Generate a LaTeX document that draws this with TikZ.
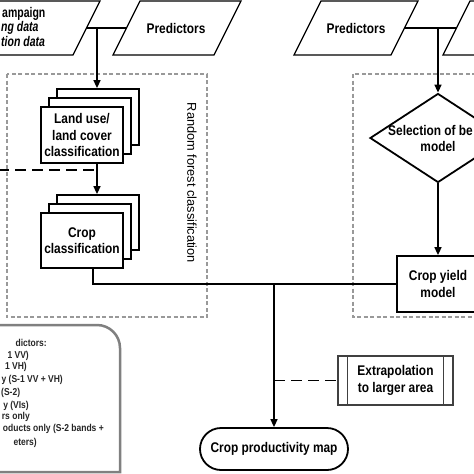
\documentclass[tikz,border=0pt]{standalone}
\usepackage{fontspec}
\setmainfont{Liberation Sans}
\newfontfamily\bxfont{Liberation Sans}[FakeStretch=0.85]
\newfontfamily\bxnarrow{Liberation Sans}[FakeStretch=0.75]
\usetikzlibrary{arrows.meta,shadows,calc,shapes.geometric}
\begin{document}
\begin{tikzpicture}[x=1pt,y=-1pt,
  boxtext/.style={font=\bxfont\bfseries\fontsize{14}{16.5}\selectfont, align=center},
  procbox/.style={draw, line width=1.8pt, fill=white, minimum width=82pt, minimum height=56pt, inner sep=0pt, boxtext},
  stackbox/.style={procbox, double copy shadow={shadow xshift=8pt, shadow yshift=9pt, draw=black, fill=white, line width=1.8pt}},
  arr/.style={line width=1.6pt, -{Triangle[length=8pt,width=7pt]}},
  conn/.style={line width=1.6pt},
  dashconn/.style={line width=1.6pt, dash pattern=on 11pt off 6pt},
  groupbox/.style={draw=black!40, line width=1.5pt, dash pattern=on 4pt off 2.5pt},
  para/.style={draw, line width=1.3pt, fill=white},
  frag/.style={font=\bxnarrow\bfseries\fontsize{14}{16.5}\selectfont, anchor=west, inner sep=0pt, text height=10pt, text depth=3pt},
  lgtext/.style={font=\bxfont\bfseries\fontsize{10}{12.4}\selectfont, text=black!85, anchor=east, inner sep=0pt, text height=7pt, text depth=2pt}]
\useasboundingbox (0,0) rectangle (474,474);
\clip (0,0) rectangle (474,474);
\fill[white] (0,0) rectangle (474,474);

% group boxes
\draw[groupbox] (7,74) rectangle (207,317);
\draw[groupbox] (353,74) rectangle (490,317);
\node[rotate=-90, font=\fontsize{12.8}{14}\selectfont, inner sep=0pt] (rfc) at (192,183) {Random forest classification};

% input parallelograms
\draw[para] (-30,1) -- (100,1) -- (73,55) -- (-30,55) -- cycle;
\node[frag] (in1) at (2,14) {ampaign};
\node[frag, font=\bxnarrow\bfseries\itshape\fontsize{14}{16.5}\selectfont] (in2) at (1,28) {ng data};
\node[frag, font=\bxnarrow\bfseries\itshape\fontsize{14}{16.5}\selectfont] (in3) at (1,43) {tion data};
\draw[para] (140,1) -- (241,1) -- (214,55) -- (113,55) -- cycle;
\node[boxtext] (pred1) at (176,28) {Predictors};
\draw[para] (321,1) -- (418,1) -- (391,55) -- (294,55) -- cycle;
\node[boxtext] (pred2) at (356,28) {Predictors};
\draw[para] (470,1) -- (520,1) -- (493,55) -- (443,55) -- cycle;

\coordinate (pl1) at (86.5,28);
\coordinate (pr1) at (126.5,28);
\coordinate (j1) at (97,28);
\coordinate (pl2) at (404.5,28);
\coordinate (pr2) at (456.5,28);
\coordinate (j2) at (438,28);

% process nodes
\node[stackbox] (lulc) at (82,135) {Land use/\\land cover\\classification};
\node[stackbox, minimum height=55pt] (crop) at (82,240.5) {Crop\\classification};
\node[procbox] (yield) at (438,284) {Crop yield\\model};
\node[diamond, draw, line width=1.8pt, fill=white, minimum width=136pt, minimum height=89pt, inner sep=0pt] (sel) at (438,138) {};
\node[boxtext, anchor=west, inner sep=0pt] (selA) at (388,130) {Selection of be};
\node[boxtext, inner sep=0pt] (selB) at (438,146) {model};
\node[draw, line width=1.8pt, rounded corners=21pt, minimum width=148pt, minimum height=42pt, inner sep=0pt, boxtext] (map) at (274,449) {Crop productivity map};
\node[draw=black!75, line width=1.2pt, minimum width=115pt, minimum height=49pt, inner sep=0pt, boxtext] (ext) at (395.5,380.5) {Extrapolation\\to larger area};
\draw[draw=black!75, line width=1.2pt] ($(ext.north west)+(10,0)$) -- ($(ext.south west)+(10,0)$);
\draw[draw=black!75, line width=1.2pt] ($(ext.north east)+(-10,0)$) -- ($(ext.south east)+(-10,0)$);

% connectors
\coordinate (lulcback) at ($(lulc.north)+(0,-18)$);
\coordinate (a1) at ($(lulc.south)+(15,0)$);
\coordinate (cropback) at ($(crop.north)+(15,-18)$);
\coordinate (dashL) at (-2,170);
\draw[conn] (pl1) -- (pr1);
\draw[arr] (j1) -- (j1 |- lulcback);
\draw[arr] (a1) -- (cropback);
\draw[dashconn] (dashL) -- (a1 |- dashL);
\draw[conn] ($(crop.south)+(11,0)$) |- (yield.west);
\coordinate (mj) at (map.north |- yield.west);
\draw[arr] (mj) -- (map.north);
\draw[dashconn] (mj |- ext.west) -- (ext.west);
\draw[conn] (pl2) -- (pr2);
\draw[arr] (j2) -- (sel.north);
\draw[arr] (sel.south) -- (yield.north);

% legend
\draw[draw=black!50, line width=2.5pt, fill=white] (-10,325) -- (97,325) .. controls (109.7,325) and (120,335.3) .. (120,348) -- (120,472) -- (-10,472) -- cycle;
\node[lgtext] (lg1) at (47,344) {dictors:};
\node[lgtext] (lg2) at (29,356) {1 VV)};
\node[lgtext] (lg3) at (27,367) {1 VH)};
\node[lgtext] (lg4) at (63,380) {y (S-1 VV + VH)};
\node[lgtext, anchor=west] (lg5) at (1,393) {(S-2)};
\node[lgtext] (lg6) at (29,406) {y (VIs)};
\node[lgtext] (lg7) at (30,417) {rs only};
\node[lgtext] (lg8) at (104,429) {oducts only (S-2 bands +};
\node[lgtext] (lg9) at (37,443) {eters)};
\end{tikzpicture}
\end{document}
